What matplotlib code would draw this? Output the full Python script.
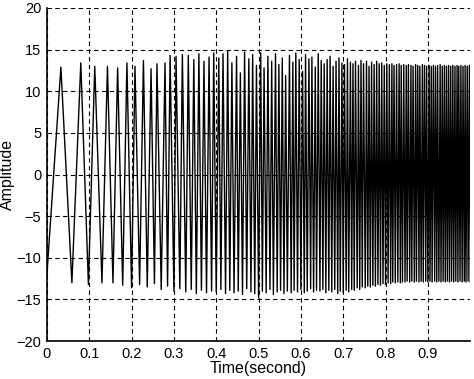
#!/usr/bin/env python3
"""Chirp-like amplitude trace vs time (crests / troughs read off the picture)."""
import numpy as np
import matplotlib
matplotlib.use("Agg")
import matplotlib.pyplot as plt

matplotlib.rcParams.update({
    "font.family": "Liberation Sans",
    "font.size": 10.5,
})

# ── data: crest / trough times (s) and amplitudes ───────────────────────────
crest_t = [
    0.033, 0.080, 0.113, 0.143, 0.167, 0.189, 0.208, 0.228, 0.246, 0.260,
    0.279, 0.291, 0.305, 0.320, 0.334, 0.347, 0.359, 0.371, 0.383, 0.394,
    0.406, 0.416, 0.427, 0.437, 0.448, 0.457, 0.467, 0.477, 0.486, 0.495,
    0.505, 0.513, 0.522, 0.531, 0.540, 0.548, 0.556, 0.564, 0.573, 0.581,
    0.588, 0.596, 0.604, 0.611, 0.619, 0.626, 0.634, 0.641, 0.648, 0.655,
    0.662, 0.669, 0.676, 0.683, 0.690, 0.697, 0.703, 0.710, 0.717, 0.723,
    0.729, 0.736, 0.742, 0.748, 0.755, 0.761, 0.767, 0.773, 0.779, 0.785,
    0.791, 0.797, 0.803, 0.809, 0.815, 0.820, 0.826, 0.832, 0.837, 0.843,
    0.849, 0.854, 0.860, 0.865, 0.871, 0.876, 0.881, 0.887, 0.892, 0.897,
    0.903, 0.908, 0.913, 0.918, 0.923, 0.929, 0.934, 0.939, 0.944, 0.949,
    0.954, 0.959, 0.964, 0.969, 0.973, 0.978, 0.983, 0.988, 0.993, 0.998,
]
crest_v = [
    12.9, 13.4, 13.0, 13.0, 12.8, 13.4, 13.0, 13.7, 12.7, 13.3,
    13.4, 14.3, 14.2, 14.4, 14.3, 13.8, 14.5, 13.6, 14.1, 14.6,
    14.0, 14.5, 14.9, 13.4, 14.2, 12.2, 14.7, 13.9, 14.4, 13.1,
    14.6, 12.8, 14.2, 13.6, 14.5, 13.2, 14.0, 11.9, 14.3, 13.5,
    14.6, 13.8, 12.4, 14.4, 13.9, 14.1, 12.9, 14.5, 13.7, 13.3,
    13.8, 14.2, 13.0, 13.6, 14.0, 13.4, 13.2, 13.9, 13.5, 13.3,
    13.6, 13.1, 13.7, 13.3, 13.6, 13.0, 13.5, 13.2, 13.6, 13.3,
    13.4, 13.1, 13.3, 13.2, 13.3, 13.1, 13.2, 13.3, 13.1, 13.2,
    13.1, 13.2, 13.1, 13.0, 13.2, 13.1, 13.0, 13.2, 13.1, 13.0,
    13.1, 13.0, 13.1, 13.0, 13.1, 13.2, 13.0, 13.1, 13.0, 13.1,
    13.0, 13.1, 13.0, 13.1, 13.0, 13.1, 13.0, 13.1, 13.0, 13.1,
]
trough_t = [
    0.000, 0.059, 0.098, 0.130, 0.156, 0.179, 0.200, 0.219, 0.237, 0.254,
    0.270, 0.285, 0.300, 0.314, 0.328, 0.341, 0.353, 0.365, 0.377, 0.389,
    0.400, 0.411, 0.422, 0.432, 0.442, 0.452, 0.462, 0.472, 0.482, 0.491,
    0.500, 0.509, 0.518, 0.527, 0.535, 0.544, 0.552, 0.560, 0.568, 0.577,
    0.584, 0.592, 0.600, 0.608, 0.615, 0.623, 0.630, 0.637, 0.645, 0.652,
    0.659, 0.666, 0.673, 0.680, 0.687, 0.693, 0.700, 0.707, 0.713, 0.720,
    0.726, 0.733, 0.739, 0.745, 0.752, 0.758, 0.764, 0.770, 0.776, 0.782,
    0.788, 0.794, 0.800, 0.806, 0.812, 0.817, 0.823, 0.829, 0.835, 0.840,
    0.846, 0.851, 0.857, 0.862, 0.868, 0.873, 0.879, 0.884, 0.889, 0.895,
    0.900, 0.905, 0.910, 0.916, 0.921, 0.926, 0.931, 0.936, 0.941, 0.946,
    0.951, 0.956, 0.961, 0.966, 0.971, 0.976, 0.981, 0.986, 0.990, 0.995,
    1.000,
]
trough_v = [
    -12.0, -13.0, -13.2, -13.0, -13.0, -13.3, -13.6, -13.2, -13.5, -13.1,
    -13.8, -13.4, -14.0, -13.7, -14.1, -13.8, -14.3, -13.9, -14.2, -14.0,
    -14.1, -13.8, -14.3, -13.9, -14.2, -14.0, -14.4, -13.7, -14.1, -14.3,
    -14.8, -14.0, -14.2, -13.8, -14.4, -14.1, -13.9, -14.3, -14.0, -14.2,
    -13.9, -14.1, -13.8, -14.2, -14.0, -13.7, -14.1, -13.9, -14.0, -13.8,
    -14.2, -13.9, -14.1, -13.8, -14.3, -14.0, -14.2, -13.9, -14.1, -13.8,
    -13.9, -13.6, -13.8, -13.5, -13.6, -13.4, -13.5, -13.3, -13.4, -13.2,
    -13.3, -13.1, -13.2, -13.0, -13.1, -12.9, -13.0, -12.9, -13.0, -12.9,
    -12.9, -12.8, -12.9, -12.8, -12.9, -12.8, -12.9, -12.8, -12.9, -12.8,
    -12.9, -12.8, -12.9, -12.8, -12.9, -12.8, -12.9, -12.8, -12.9, -12.8,
    -12.9, -12.8, -12.9, -12.8, -12.9, -12.8, -12.9, -12.8, -12.9, -12.8,
    -12.9,
]

x_ticks = [0, 0.1, 0.2, 0.3, 0.4, 0.5, 0.6, 0.7, 0.8, 0.9]
x_ticklabels = ["0", "0.1", "0.2", "0.3", "0.4", "0.5", "0.6", "0.7", "0.8", "0.9"]
y_ticks = [-20, -15, -10, -5, 0, 5, 10, 15, 20]

# join crests and troughs in time order
t = np.concatenate([crest_t, trough_t])
v = np.concatenate([crest_v, trough_v])
order = np.argsort(t, kind="stable")
t, v = t[order], v[order]

# ── figure ──────────────────────────────────────────────────────────────────
fig = plt.figure(figsize=(4.74, 3.79), dpi=100)
ax = fig.add_axes([0.099, 0.100, 0.893, 0.879])

ax.plot(t, v, color="black", lw=1.0)

ax.set_xlim(0, 1)
ax.set_ylim(-20, 20)
ax.set_xticks(x_ticks)
ax.set_xticklabels(x_ticklabels)
ax.set_yticks(y_ticks)
ax.tick_params(length=0, pad=4)
ax.grid(True, color="black", ls=(0, (4, 3)), lw=0.8)

for side in ("top", "right"):
    ax.spines[side].set_visible(False)
for side in ("left", "bottom"):
    ax.spines[side].set_linewidth(1.2)

ax.set_xlabel("Time(second)", labelpad=0, fontsize=11.5)
ax.set_ylabel("Amplitude", labelpad=1, fontsize=11.5)

fig.savefig("out.png", dpi=100)
plt.close(fig)
